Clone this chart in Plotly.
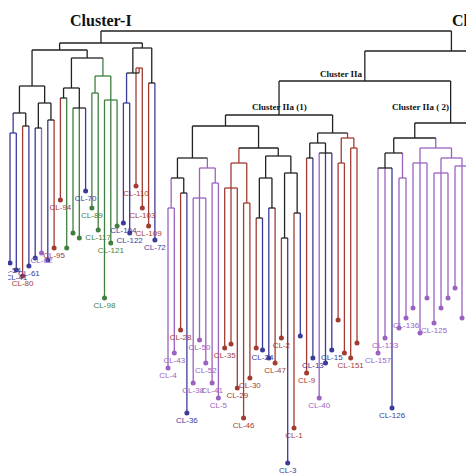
import plotly.graph_objects as go

# leaf data, left to right
leaf_tip = [255, 262, 268, 258, 250, 245, 252, 240,
            192, 240, 225, 230, 183, 200, 222, 290, 235, 218,
            215, 225, 178, 200, 218, 232,
            360, 345, 322, 405, 375, 332, 355, 375, 390, 340, 336, 380, 410, 370,
            340, 342, 350, 355, 330, 455, 420, 328, 365, 350, 390, 355, 342, 312,
            345, 350, 335,
            345, 330, 400, 320, 310, 300, 325, 290, 315, 300, 290, 280, 310, 295,
            305, 300, 300, 290]
leaf_color = ["b", "b", "r", "b", "b", "p", "b", "r",
              "r", "g", "g", "g", "b", "g", "g", "g", "g", "g",
              "b", "b", "r", "r", "r", "b",
              "p", "p", "r", "b", "p", "p", "p", "p", "p", "r", "r", "r", "r", "r",
              "r", "b", "b", "r", "r", "b", "r", "b", "r", "b", "p", "b", "b", "r",
              "r", "r", "r",
              "p", "p", "b", "p", "p", "p", "p", "p", "p", "p", "p", "p", "p", "p",
              "p", "p", "p", "p"]
leaf_label = ["CL-54", "CL-41", "CL-80", "CL-61", "", "CL-62", "", "CL-95",
              "CL-94", "", "", "", "CL-70", "CL-89", "CL-117", "CL-98", "CL-121", "",
              "CL-104", "CL-122", "CL-110", "CL-103", "CL-109", "CL-72",
              "CL-4", "CL-43", "CL-28", "CL-36", "CL-38", "CL-50", "CL-52", "CL-41",
              "CL-5", "CL-35", "", "CL-29", "CL-46", "CL-30", "", "CL-24",
              "", "CL-47", "CL-2", "CL-3", "CL-1", "", "CL-9", "CL-13", "CL-40",
              "", "CL-15", "", "", "CL-151", "",
              "CL-157", "CL-133", "CL-126", "", "CL-136", "", "", "", "CL-125", "",
              "", "", "", "", "", "", "", ""]

# tree: [merge height, children...]; ints are leaf indices
cluster_1 = [35,
             [42,
              [78, [105, [125, 0, 1], [118, 2, 3]], [95, [120, 4, 5], [112, 6, 7]]],
              [50, [80, [90, 8, 9], [100, 10, 11, 12]], [68, [85, 13, 14], [92, 15, 16, 17]]]],
             [40, [65, [95, 18, 19], [60, 20, 21]], [75, 22, 23]]]
cluster_2a1 = [107,
               [118,
                [150, [170, [200, 24, 25], [185, 26, 27]], [160, [190, 28, 29, 30], [175, 31, 32]]],
                [140, [155, [180, 33, 34, 35], [195, 36, 37]],
                 [148, [170, [210, 38, 39], [200, 40, 41]], [165, [230, 42, 43], [205, 44, 45]]]]],
               [125, [135, [150, 46, 47], [145, 48, 49, 50]], [130, [155, 51, 52], [140, 53, 54]]]]
cluster_2a2 = [115,
               [130, [145, [160, 55, 56, 57], [170, 58, 59]],
                [140, [155, 60, 61, 62], [150, [165, 63, 64, 65], [158, 66, 67, 68]]]],
               [125, [150, 69, 70], [140, 71, 72]]]
cluster_2a = [73, cluster_2a1, cluster_2a2]
cluster_2 = [43, cluster_2a]          # second branch runs off the right edge
tree = [23, cluster_1, cluster_2]

COLORS = {"b": "#3b3b9a", "r": "#a23c33", "g": "#3f7f3f", "p": "#9b62c2", "k": "#222222"}
segs = {k: ([], []) for k in COLORS}
node_x = {}

def leaf_x(i):
    if i < 24:
        return 2 + i * 6.3
    if i < 55:
        return 160 + (i - 24) * 6.3
    return 370 + (i - 55) * 7.0

def add(c, x0, y0, x1, y1):
    xs, ys = segs[c]
    xs += [x0, x1, None]
    ys += [y0, y1, None]

def layout(node):
    if isinstance(node, int):
        return leaf_x(node), leaf_color[node]
    h, kids = node[0], node[1:]
    if len(kids) == 1:
        x, c = layout(kids[0])
        add("k", x, h, 530, h)
        add("k", x, h, x, kids[0][0])
        node_x[id(node)] = (x + 530) / 2
        return (x + 530) / 2, "k"
    info = [layout(k) for k in kids]
    cols = set(c for _, c in info)
    col = cols.pop() if len(cols) == 1 else "k"
    for k, (x, c) in zip(kids, info):
        bottom = leaf_tip[k] if isinstance(k, int) else k[0]
        add(c, x, h, x, bottom)
    add(col, info[0][0], h, info[-1][0], h)
    x = (info[0][0] + info[-1][0]) / 2
    node_x[id(node)] = x
    return x, col

layout(tree)

fig = go.Figure()
for c, (xs, ys) in segs.items():
    fig.add_trace(go.Scatter(x=xs, y=ys, mode="lines",
                             line=dict(color=COLORS[c], width=1.3), hoverinfo="skip"))
fig.add_trace(go.Scatter(
    x=[leaf_x(i) for i in range(len(leaf_tip))], y=leaf_tip, mode="markers+text",
    marker=dict(size=5, color=[COLORS[c] for c in leaf_color]),
    text=leaf_label, textposition="bottom center",
    textfont=dict(size=8, color=[COLORS[c] for c in leaf_color], family="Arial")))

serif = "Liberation Serif"
fig.add_annotation(x=node_x[id(cluster_1)], y=12, text="<b>Cluster-I</b>", showarrow=False,
                   font=dict(family=serif, size=16, color="#111"))
fig.add_annotation(x=474, y=12, text="<b>Cluster-II</b>", showarrow=False, xanchor="left",
                   xshift=-32, font=dict(family=serif, size=16, color="#111"))
fig.add_annotation(x=node_x[id(cluster_2a)], y=66, text="<b>Cluster IIa</b>", showarrow=False,
                   xanchor="right", font=dict(family=serif, size=9, color="#111"))
fig.add_annotation(x=node_x[id(cluster_2a1)], y=99, text="<b>Cluster IIa (1)</b>", showarrow=False,
                   xanchor="center", font=dict(family=serif, size=9, color="#111"))
fig.add_annotation(x=node_x[id(cluster_2a2)], y=99, text="<b>Cluster IIa ( 2)</b>", showarrow=False,
                   xanchor="right", font=dict(family=serif, size=9, color="#111"))

fig.update_layout(width=474, height=474, margin=dict(l=0, r=0, t=0, b=0),
                  plot_bgcolor="white", paper_bgcolor="white", showlegend=False,
                  xaxis=dict(range=[0, 474], visible=False),
                  yaxis=dict(range=[474, 0], visible=False))
fig.write_html("out.html")
